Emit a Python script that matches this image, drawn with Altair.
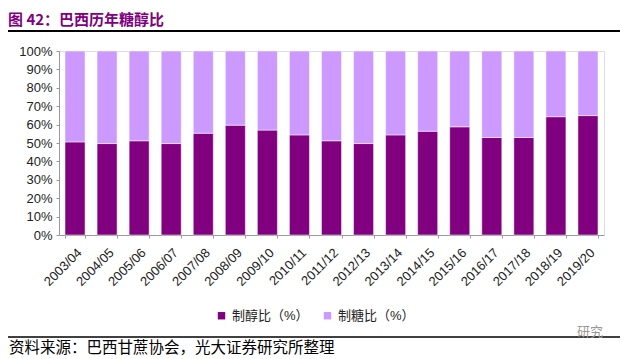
import altair as alt
import pandas as pd

seasons = ["2003/04", "2004/05", "2005/06", "2006/07", "2007/08", "2008/09",
           "2009/10", "2010/11", "2011/12", "2012/13", "2013/14", "2014/15",
           "2015/16", "2016/17", "2017/18", "2018/19", "2019/20"]
ethanol = [50.6, 49.7, 51.2, 49.7, 55.3, 59.7, 57.0, 54.4, 51.2, 49.7,
           54.4, 56.4, 58.8, 53.0, 53.0, 64.3, 64.9]
sugar = [49.4, 50.3, 48.8, 50.3, 44.7, 40.3, 43.0, 45.6, 48.8, 50.3,
         45.6, 43.6, 41.2, 47.0, 47.0, 35.7, 35.1]
series_names = ["制醇比（%）", "制糖比（%）"]
series_colors = ["#800080", "#CC99FF"]

rows = []
for i, s in enumerate(seasons):
    rows.append({"season": s, "series": series_names[0], "value": ethanol[i] / 100, "ord": 0})
    rows.append({"season": s, "series": series_names[1], "value": sugar[i] / 100, "ord": 1})
df = pd.DataFrame(rows)

LAB_FONT = "Liberation Sans, Arial, Noto Sans CJK SC"
CJK_FONT = "Noto Sans CJK SC"

bars = alt.Chart(df).mark_bar(stroke="white", strokeWidth=0.5).encode(
    x=alt.X("season:N", sort=seasons, title=None,
            scale=alt.Scale(paddingInner=0.375, paddingOuter=0.1875),
            axis=alt.Axis(labelAngle=-45, labelFontSize=13, labelFont=LAB_FONT,
                          labelColor="#222222", domainColor="#999999",
                          tickColor="#999999", tickSize=3, tickBand="extent",
                          labelPadding=8)),
    y=alt.Y("value:Q", stack="zero", title=None,
            scale=alt.Scale(domain=[0, 1]),
            axis=alt.Axis(format=".0%", values=[i / 10 for i in range(11)],
                          labelFontSize=13, labelFont=LAB_FONT, labelColor="#222222",
                          domainColor="#999999", tickColor="#999999", tickSize=3,
                          grid=False, labelPadding=4)),
    color=alt.Color("series:N", sort=series_names,
                    scale=alt.Scale(domain=series_names, range=series_colors),
                    legend=alt.Legend(title=None, orient="none", direction="horizontal",
                                      legendX=156, legendY=258,
                                      symbolType="square", symbolSize=55,
                                      symbolStrokeWidth=0,
                                      labelFontSize=13, labelFont=LAB_FONT,
                                      labelColor="#222222", columnPadding=12)),
    order=alt.Order("ord:Q", sort="ascending"),
)

one = alt.Data(values=[{}])

title = alt.Chart(one).mark_text(
    text="图 42：巴西历年糖醇比", align="left", baseline="middle",
    font=CJK_FONT, fontSize=15, fontWeight="bold", color="#800080"
).encode(x=alt.value(-51), y=alt.value(-31))

top_line = alt.Chart(one).mark_rule(color="black", strokeWidth=2).encode(
    x=alt.value(-51), x2=alt.value(561), y=alt.value(-20))

bottom_line = alt.Chart(one).mark_rule(color="black", strokeWidth=1.5).encode(
    x=alt.value(-51), x2=alt.value(561), y=alt.value(286))

source = alt.Chart(one).mark_text(
    text="资料来源：巴西甘蔗协会，光大证券研究所整理", align="left", baseline="middle",
    font=CJK_FONT, fontSize=15.5, color="black"
).encode(x=alt.value(-50), y=alt.value(297))

watermark = alt.Chart(one).mark_text(
    text="研究", align="left", baseline="middle",
    font=CJK_FONT, fontSize=13, color="#999999"
).encode(x=alt.value(518), y=alt.value(281))

chart = alt.layer(bars, title, top_line, bottom_line, source, watermark).properties(
    width=545, height=184,
    autosize=alt.AutoSizeParams(type="none"),
    padding={"left": 51, "top": 43, "right": 16, "bottom": 122},
).configure_view(stroke=None).configure(background="white")

chart.save("out.html", embed_options={"renderer": "svg", "actions": False})
